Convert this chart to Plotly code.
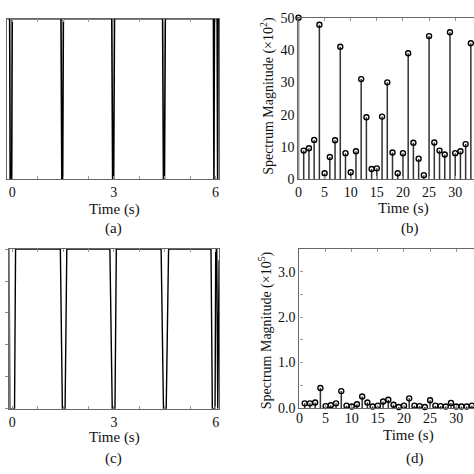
import plotly.graph_objects as go

# ---------------- data ----------------
# (a) time signal: narrow dips of a high-level pulse train
sig_a_t = [-0.2, -0.075, -0.06, -0.015, 0.0, 1.44, 1.465, 1.49, 1.51,
           2.94, 2.965, 2.995, 3.02, 4.44, 4.465, 4.495, 4.52,
           5.94, 5.955, 5.97, 6.05, 6.065, 6.08, 6.2]
sig_a_y = [1, 1, 0, 0, 1, 1, 0, 0, 1,
           1, 0, 0, 1, 1, 0, 0, 1,
           1, 0, 1, 1, 0, 1, 1]

# (c) time signal: wider dips
sig_c_t = [-0.2, -0.09, -0.07, 0.07, 0.1, 1.42, 1.48, 1.56, 1.61,
           2.88, 2.95, 3.03, 3.07, 4.39, 4.46, 4.54, 4.61,
           5.86, 5.9, 5.98, 6.0, 6.03, 6.06, 6.1]
sig_c_y = [1, 1, 0, 0, 1, 1, 0, 0, 1,
           1, 0, 0, 1, 1, 0, 0, 1,
           1, 0, 0, 1, 1, 0, 0.93]

# (b) spectrum magnitude (x10^2)
spec_b_x = list(range(0, 34))
spec_b_y = [50, 8.9, 9.6, 12.2, 47.8, 1.9, 6.9, 12.1, 41.0, 8.1,
            2.2, 8.7, 31.0, 19.2, 3.2, 3.4, 19.4, 30.0, 8.3, 1.9,
            8.1, 39.0, 11.3, 6.4, 1.3, 44.3, 11.4, 8.9, 7.7, 45.5,
            8.1, 8.7, 10.9, 42.1]

# (d) spectrum magnitude (x10^5)
spec_d_x = list(range(1, 34))
spec_d_y = [0.10, 0.10, 0.12, 0.44, 0.04, 0.06, 0.10, 0.37, 0.05, 0.03,
            0.08, 0.25, 0.12, 0.03, 0.05, 0.14, 0.18, 0.07, 0.02, 0.05,
            0.21, 0.05, 0.04, 0.02, 0.17, 0.05, 0.04, 0.03, 0.11, 0.03,
            0.03, 0.03, 0.05]

time_ticks = [0, 3, 6]
spec_ticks = [0, 5, 10, 15, 20, 25, 30]
b_yticks = [0, 10, 20, 30, 40, 50]
d_yticks = [0.0, 1.0, 2.0, 3.0]
d_yticktext = ["0.0", "1.0", "2.0", "3.0"]

# ---------------- figure ----------------
W = H = 474
FONT = "Liberation Serif"
FRAME = "#666666"
STEM = "#333333"

def px_x(p):
    return p / W

def px_y(p):
    return 1 - p / H

fig = go.Figure()

# time signals
fig.add_trace(go.Scatter(x=sig_a_t, y=sig_a_y, mode="lines",
                         line=dict(color="black", width=1.6),
                         xaxis="x", yaxis="y", showlegend=False))
fig.add_trace(go.Scatter(x=sig_c_t, y=sig_c_y, mode="lines",
                         line=dict(color="black", width=1.4),
                         xaxis="x3", yaxis="y3", showlegend=False))

def stems(xs, ys):
    sx, sy = [], []
    for xv, yv in zip(xs, ys):
        sx += [xv, xv, None]
        sy += [0, yv, None]
    return sx, sy

for xs, ys, xa, ya in [(spec_b_x, spec_b_y, "x2", "y2"),
                       (spec_d_x, spec_d_y, "x4", "y4")]:
    sx, sy = stems(xs, ys)
    fig.add_trace(go.Scatter(x=sx, y=sy, mode="lines",
                             line=dict(color=STEM, width=1.5),
                             xaxis=xa, yaxis=ya, showlegend=False,
                             cliponaxis=False))
    fig.add_trace(go.Scatter(x=xs, y=ys, mode="markers",
                             marker=dict(symbol="circle-open", size=5,
                                         color="black",
                                         line=dict(width=1.4, color="black")),
                             xaxis=xa, yaxis=ya, showlegend=False,
                             cliponaxis=False))

tickfont = dict(family=FONT, size=14, color="#111111")
minor_in = dict(ticks="inside", ticklen=3, tickcolor="#999999")

common_time_x = dict(tickvals=time_ticks, ticks="inside", ticklen=3,
                     tickcolor="#999999",
                     minor=dict(dtick=0.75, tick0=0, **minor_in),
                     showline=True, linecolor=FRAME, linewidth=1.2,
                     mirror="allticks", showgrid=False, zeroline=False,
                     tickfont=tickfont)

fig.update_layout(
    width=W, height=H,
    margin=dict(l=0, r=0, t=0, b=0),
    paper_bgcolor="white", plot_bgcolor="white",
    xaxis=dict(domain=[px_x(3.5), px_x(217)], anchor="y",
               range=[-0.14, 6.11], **common_time_x),
    yaxis=dict(domain=[px_y(178), px_y(12)], anchor="x", range=[0, 1],
               showline=True, linecolor=FRAME, linewidth=1.2, mirror=True,
               showticklabels=False, ticks="", showgrid=False,
               zeroline=False),
    xaxis3=dict(domain=[px_x(5.5), px_x(217.3)], anchor="y3",
                range=[-0.08, 6.11], **common_time_x),
    yaxis3=dict(domain=[px_y(415), px_y(250)], anchor="x3", range=[0, 1],
                showline=True, linecolor=FRAME, linewidth=1.2, mirror=True,
                showticklabels=False, ticks="outside", ticklen=3,
                tickcolor="#888888", dtick=0.2, tick0=0,
                showgrid=False, zeroline=False),
    xaxis2=dict(domain=[px_x(297), 1], anchor="y2", range=[0, 33.6],
                tickvals=spec_ticks, ticks="inside", ticklen=3,
                tickcolor="#999999", showline=True, linecolor=FRAME,
                linewidth=1.4, mirror="allticks", showgrid=False,
                zeroline=False, tickfont=tickfont),
    yaxis2=dict(domain=[px_y(178), px_y(11)], anchor="x2", range=[0, 50],
                tickvals=b_yticks, ticks="", showline=True,
                linecolor=FRAME, linewidth=1.4, showgrid=False,
                zeroline=False, tickfont=tickfont),
    xaxis4=dict(domain=[px_x(298), 1], anchor="y4", range=[0, 33.4],
                tickvals=spec_ticks, ticks="inside", ticklen=3,
                tickcolor="#999999", showline=True, linecolor=FRAME,
                linewidth=1.4, mirror="allticks", showgrid=False,
                zeroline=False, tickfont=tickfont, ticklabelstandoff=-3),
    yaxis4=dict(domain=[px_y(414), px_y(250)], anchor="x4", range=[0, 3.5],
                tickvals=d_yticks, ticktext=d_yticktext,
                ticks="inside", ticklen=3, tickcolor="#999999",
                minor=dict(dtick=0.5, tick0=0, **minor_in),
                showline=True, linecolor=FRAME, linewidth=1.4,
                showgrid=False, zeroline=False, tickfont=tickfont),
)

def label(text, x, y, size=14, angle=0):
    fig.add_annotation(text=text, x=px_x(x), y=px_y(y), xref="paper",
                       yref="paper", showarrow=False, textangle=angle,
                       font=dict(family=FONT, size=size, color="#111111"),
                       xanchor="center", yanchor="middle")

label("Time (s)", 111, 209, size=15)
label("(a)", 110, 229, size=15)
label("Time (s)", 403, 208, size=15)
label("(b)", 409, 229, size=15)
label("Time (s)", 111, 445, size=15)
label("(c)", 110, 466, size=15)
label("Time (s)", 408, 442, size=15)
label("(d)", 415, 466, size=15)
label("Spectrum Magnitude (×10<sup>2</sup>)", 265, 92, size=14, angle=-90)
label("Spectrum Magnitude (×10<sup>5</sup>)", 264, 334, size=14, angle=-90)

fig.write_html("out.html")
